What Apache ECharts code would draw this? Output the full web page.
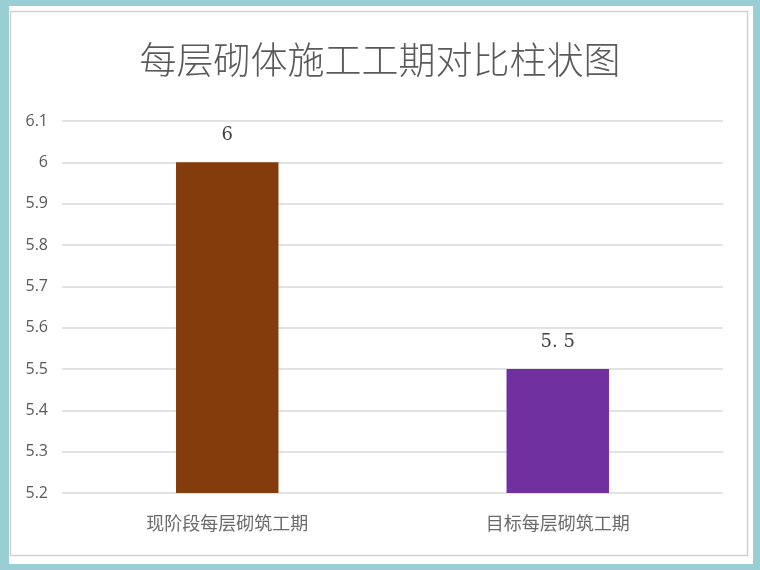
<!DOCTYPE html>
<html><head><meta charset="utf-8">
<style>html,body{margin:0;padding:0;background:#98CED4;}#c{width:760px;height:570px;}</style>
<script src="https://cdn.jsdelivr.net/npm/echarts@6/dist/echarts.min.js"></script>
</head><body><div id="c"></div>
<script>
const categories = ['现阶段每层砌筑工期', '目标每层砌筑工期'];
const values = [6, 5.5];
const barColors = ['#843C0C', '#7030A0'];
const yMin = 5.2, yMax = 6.1, yStep = 0.1;
const chart = echarts.init(document.getElementById('c'));
chart.setOption({
  backgroundColor: '#98CED4',
  animation: false,
  graphic: [
    {type:'rect', shape:{x:9,y:6,width:744,height:558}, style:{fill:'#ffffff'}, z:-10},
    {type:'rect', shape:{x:10.5,y:11.5,width:737,height:544}, style:{fill:'none', stroke:'#D0D0D0', lineWidth:1.5}, z:-9}
  ],
  title: {
    text: '每层砌体施工工期对比柱状图', left: 'center', top: 36,
    textStyle: {fontSize: 37, fontWeight: 300, color: '#5a5a5a', fontFamily: 'Noto Sans CJK SC'}
  },
  grid: {left: 62, right: 37, top: 121, bottom: 77, containLabel: false},
  xAxis: {
    type: 'category', data: categories,
    axisLine: {show: false}, axisTick: {show: false},
    axisLabel: {fontSize: 18, color: '#6b6b6b', margin: 21, fontFamily: 'Noto Sans CJK SC'}
  },
  yAxis: {
    type: 'value', min: yMin, max: yMax, interval: yStep,
    axisLine: {show: false}, axisTick: {show: false},
    axisLabel: {fontSize: 16, color: '#595959', margin: 14, fontFamily: 'Open Sans', formatter: v => String(+v.toFixed(1))},
    splitLine: {lineStyle: {color: '#D9D9D9', width: 1.5}}
  },
  series: [{
    type: 'bar', barWidth: '31%',
    data: values.map((v, i) => ({value: v, itemStyle: {color: barColors[i]}})),
    label: {show: true, position: 'top', distance: 18, fontSize: 18, color: '#404040', fontFamily: 'DejaVu Serif',
      formatter: p => String(p.value).replace('.', '. ')}
  }]
});
</script></body></html>
